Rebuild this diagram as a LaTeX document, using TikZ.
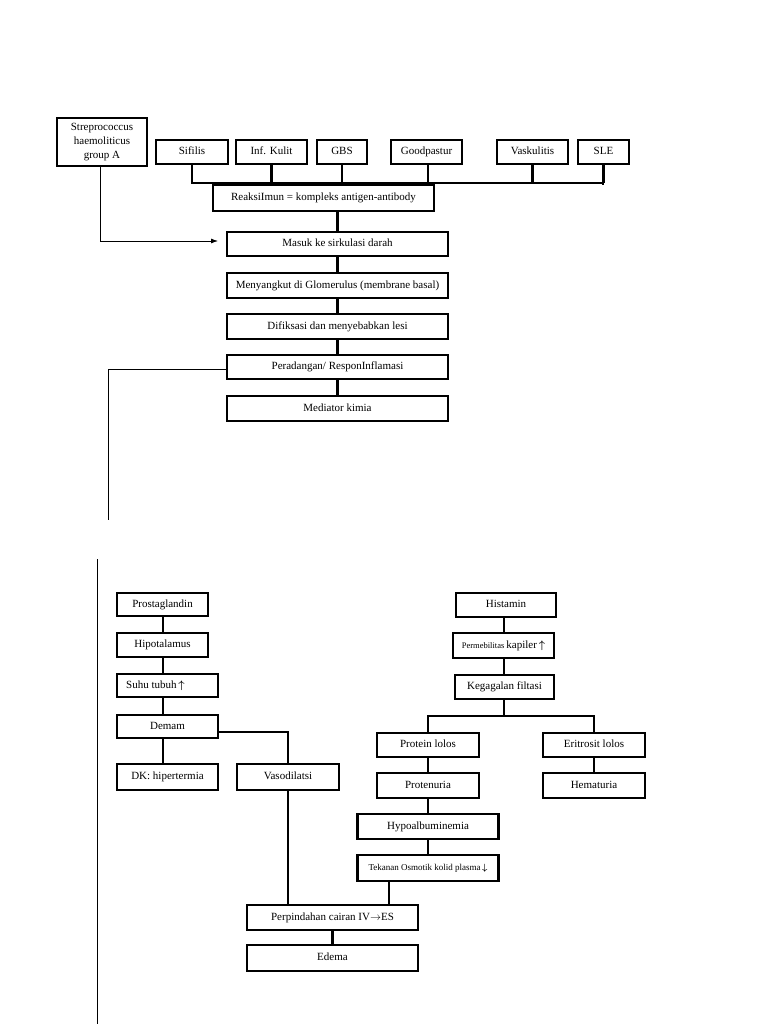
\documentclass[tikz,border=0pt]{standalone}
\usepackage{amsmath}
\usepackage{fontspec}
\setmainfont{Liberation Serif}
\usetikzlibrary{arrows.meta}
\begin{document}
\begin{tikzpicture}[x=1pt,y=-1pt,
  bx/.style={draw, line width=2.8pt, inner sep=0pt, font=\fontsize{11}{14}\selectfont, align=center},
  box/.style={bx, text height=7.6pt, text depth=2.4pt},
  conn/.style={line width=2.2pt},
  thin/.style={line width=0.8pt}]
\useasboundingbox (0,0) rectangle (768,1024);
% top row
\node[bx, minimum width=90, minimum height=48] (strep) at (102,142) {Streprococcus\\haemoliticus\\group A};
\node[box, minimum width=72, minimum height=24] (sif) at (192,152) {Sifilis};
\node[box, minimum width=71, minimum height=24] (ink) at (271.5,152) {Inf. Kulit};
\node[box, minimum width=50, minimum height=24] (gbs) at (342,152) {GBS};
\node[box, minimum width=71, minimum height=24] (good) at (426.5,152) {Goodpastur};
\node[box, minimum width=71, minimum height=24] (vask) at (532.5,152) {Vaskulitis};
\node[box, minimum width=51, minimum height=24] (sle) at (603.5,152) {SLE};
\node[box, minimum width=221, minimum height=26] (reaksi) at (323.5,198) {ReaksiImun = kompleks antigen-antibody};
% main chain
\node[box, minimum width=221, minimum height=24] (masuk) at (337.5,244) {Masuk ke sirkulasi darah};
\node[box, minimum width=221, minimum height=25] (meny) at (337.5,285.5) {Menyangkut di Glomerulus (membrane basal)};
\node[box, minimum width=221, minimum height=25] (difik) at (337.5,326.5) {Difiksasi dan menyebabkan lesi};
\node[box, minimum width=221, minimum height=24] (perad) at (337.5,367) {Peradangan/ ResponInflamasi};
\node[box, minimum width=221, minimum height=25] (med) at (337.5,408.5) {Mediator kimia};
% bus
\coordinate (busL) at (192,183);
\coordinate (busR) at (603,183);
\draw[conn] (sif.south) -- (busL) -- (busR) -- ++(0,2);
\draw[conn] (ink.south) -- (ink.south |- busL);
\draw[conn] (gbs.south) -- (gbs.south |- busL);
\coordinate (gs) at (428,164);
\draw[conn] (gs) -- (gs |- busL);
\draw[conn] (vask.south) -- (vask.south |- busL);
\draw[conn] (sle.south) -- (sle.south |- busL);
\draw[conn] (masuk.north) -- (masuk.north |- reaksi.south);
\draw[conn] (masuk) -- (meny);
\draw[conn] (meny) -- (difik);
\draw[conn] (difik) -- (perad);
\draw[conn] (perad) -- (med);
% strepto arrow
\coordinate (arrTip) at (218,241);
\draw[thin, -{Latex[length=7pt,width=5pt]}] (100,166) -- (100,241) -- (arrTip);
% peradangan line
\coordinate (pl1) at (108,369);
\coordinate (pl2) at (108,520);
\draw[thin] (perad.west |- pl1) -- (pl1) -- (pl2);
\coordinate (lv1) at (97,559);
\coordinate (lv2) at (97,1024);
\draw[thin] (lv1) -- (lv2);
% bottom left
\node[box, minimum width=91, minimum height=23] (prost) at (162.5,604.5) {Prostaglandin};
\node[box, minimum width=91, minimum height=24] (hipot) at (162.5,645) {Hipotalamus};
\node[box, minimum width=101, minimum height=23] (suhu) at (167.5,685.5) {};
\node[font=\fontsize{11}{14}\selectfont, anchor=west, inner sep=0pt, text height=7.6pt, text depth=2.4pt] (suhut) at (126,685.5) {Suhu tubuh\,$\boldsymbol{\uparrow}$};
\node[box, minimum width=101, minimum height=23] (demam) at (167.5,726.5) {Demam};
\node[box, minimum width=101, minimum height=26] (dk) at (167.5,777) {DK: hipertermia};
\node[box, minimum width=102, minimum height=26] (vaso) at (288,777) {Vasodilatsi};
\coordinate (dj) at (288,732);
\draw[conn] (163,616) -- (163,633);
\draw[conn] (163,657) -- (163,674);
\draw[conn] (163,697) -- (163,715);
\draw[conn] (163,738) -- (163,764);
\draw[conn] (demam.east |- dj) -- (dj) -- (vaso.north);
% bottom right
\node[box, minimum width=100, minimum height=24] (hist) at (506,605) {Histamin};
\node[box, minimum width=101, minimum height=25] (perm) at (503.5,645.5) {{\fontsize{8.5}{9}\selectfont Permebilitas }kapiler\,$\boldsymbol{\uparrow}$};
\node[box, minimum width=99, minimum height=24] (keg) at (504.5,687) {Kegagalan filtasi};
\node[box, minimum width=102, minimum height=24] (prot) at (428,745) {Protein lolos};
\node[box, minimum width=102, minimum height=24] (erit) at (594,745) {Eritrosit lolos};
\node[box, minimum width=102, minimum height=25] (pren) at (428,785.5) {Protenuria};
\node[box, minimum width=102, minimum height=25] (hema) at (594,785.5) {Hematuria};
\node[box, minimum width=141, minimum height=25] (hypo) at (428,826.5) {Hypoalbuminemia};
\node[box, minimum width=141, minimum height=26] (tek) at (428,868) {\fontsize{9}{10}\selectfont Tekanan Osmotik kolid plasma\,$\boldsymbol{\downarrow}$};
\node[box, minimum width=171, minimum height=25] (perp) at (332.5,917.5) {Perpindahan cairan IV$\rightarrow$ES};
\node[box, minimum width=171, minimum height=26] (edema) at (332.5,958) {Edema};
\draw[conn] (504,617) -- (504,633);
\draw[conn] (504,658) -- (504,675);
\draw[conn] (504,699) -- (504,716);
\coordinate (bl) at (428,716);
\coordinate (br) at (594,716);
\draw[conn] (prot.north) -- (bl) -- (br) -- (erit.north);
\draw[conn] (prot) -- (pren);
\draw[conn] (erit) -- (hema);
\draw[conn] (pren) -- (hypo);
\draw[conn] (hypo) -- (tek);
\coordinate (tp) at (389,881);
\draw[conn] (tp) -- (tp |- perp.north);
\draw[conn] (vaso.south) -- (vaso.south |- perp.north);
\draw[conn] (perp) -- (edema);
\end{tikzpicture}
\end{document}
